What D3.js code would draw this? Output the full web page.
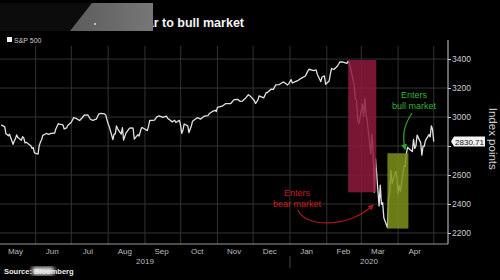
<!DOCTYPE html>
<html>
<head>
<meta charset="utf-8">
<script src="https://cdn.jsdelivr.net/npm/d3@7"></script>
<style>
  body { margin: 0; background: #000; }
  svg { display: block; font-family: "Liberation Sans", Arial, sans-serif; }
</style>
</head>
<body>
<div id="chart"></div>
<script>
// S&P 500 closes, May 2019 - May 2020
const dates = [
  "2019-05-03","2019-05-06","2019-05-07","2019-05-08","2019-05-09","2019-05-10","2019-05-13","2019-05-14","2019-05-15","2019-05-16",
  "2019-05-17","2019-05-20","2019-05-21","2019-05-22","2019-05-23","2019-05-24","2019-05-28","2019-05-29","2019-05-30","2019-05-31",
  "2019-06-03","2019-06-04","2019-06-05","2019-06-06","2019-06-07","2019-06-10","2019-06-12","2019-06-14","2019-06-17","2019-06-18",
  "2019-06-20","2019-06-21","2019-06-24","2019-06-25","2019-06-27","2019-06-28","2019-07-01","2019-07-03","2019-07-05","2019-07-08",
  "2019-07-10","2019-07-12","2019-07-15","2019-07-17","2019-07-19","2019-07-22","2019-07-24","2019-07-26","2019-07-29","2019-07-30",
  "2019-07-31","2019-08-01","2019-08-02","2019-08-05","2019-08-06","2019-08-07","2019-08-08","2019-08-09","2019-08-12","2019-08-13",
  "2019-08-14","2019-08-16","2019-08-19","2019-08-21","2019-08-22","2019-08-23","2019-08-26","2019-08-27","2019-08-29","2019-08-30",
  "2019-09-03","2019-09-04","2019-09-05","2019-09-09","2019-09-11","2019-09-13","2019-09-16","2019-09-19","2019-09-20","2019-09-24",
  "2019-09-26","2019-09-27","2019-09-30","2019-10-01","2019-10-02","2019-10-03","2019-10-04","2019-10-07","2019-10-08","2019-10-10",
  "2019-10-11","2019-10-15","2019-10-18","2019-10-21","2019-10-24","2019-10-25","2019-10-28","2019-10-30","2019-10-31","2019-11-01",
  "2019-11-05","2019-11-08","2019-11-12","2019-11-15","2019-11-18","2019-11-20","2019-11-22","2019-11-25","2019-11-27","2019-11-29",
  "2019-12-02","2019-12-03","2019-12-05","2019-12-06","2019-12-10","2019-12-12","2019-12-13","2019-12-16","2019-12-18","2019-12-20",
  "2019-12-23","2019-12-26","2019-12-27","2019-12-30","2019-12-31","2020-01-02","2020-01-03","2020-01-06","2020-01-08","2020-01-10",
  "2020-01-14","2020-01-16","2020-01-17","2020-01-21","2020-01-23","2020-01-24","2020-01-27","2020-01-28","2020-01-30","2020-01-31",
  "2020-02-03","2020-02-04","2020-02-05","2020-02-07","2020-02-10","2020-02-12","2020-02-14","2020-02-18","2020-02-19","2020-02-20",
  "2020-02-21","2020-02-24","2020-02-25","2020-02-26","2020-02-27","2020-02-28","2020-03-02","2020-03-03","2020-03-04","2020-03-05",
  "2020-03-06","2020-03-09","2020-03-10","2020-03-11","2020-03-12","2020-03-13","2020-03-16","2020-03-17","2020-03-18","2020-03-19",
  "2020-03-20","2020-03-23","2020-03-24","2020-03-25","2020-03-26","2020-03-27","2020-03-30","2020-03-31","2020-04-01","2020-04-02",
  "2020-04-03","2020-04-06","2020-04-07","2020-04-08","2020-04-09","2020-04-13","2020-04-14","2020-04-15","2020-04-16","2020-04-17",
  "2020-04-20","2020-04-21","2020-04-22","2020-04-23","2020-04-24","2020-04-27","2020-04-28","2020-04-29","2020-04-30","2020-05-01"
];
const closes = [
  2945.6,2932.5,2884.1,2879.4,2870.7,2881.4,2811.9,2834.4,2850.9,2876.3,
  2859.5,2840.2,2864.4,2856.3,2822.2,2826.1,2802.4,2783.0,2788.9,2752.1,
  2744.5,2803.3,2826.2,2843.5,2873.3,2886.7,2879.8,2886.9,2889.7,2917.8,
  2954.2,2950.5,2945.4,2917.4,2924.9,2941.8,2964.3,2995.8,2990.4,2975.9,
  2993.1,3013.8,3014.3,2984.4,2976.6,2985.0,3019.6,3025.9,3021.0,3013.2,
  2980.4,2953.6,2932.1,2844.7,2881.8,2884.0,2938.1,2918.7,2882.7,2926.3,
  2840.6,2888.7,2923.7,2924.4,2922.9,2847.1,2878.4,2869.2,2924.6,2926.5,
  2906.3,2937.8,2976.0,2978.4,3000.9,3007.4,2998.0,3006.8,2992.1,2966.6,
  2977.6,2961.8,2976.7,2940.3,2887.6,2910.6,2952.0,2938.8,2893.1,2938.1,
  2970.3,2995.7,2986.2,3006.7,3010.3,3022.6,3039.4,3046.8,3037.6,3066.9,
  3074.6,3093.1,3091.8,3120.5,3122.0,3108.5,3110.3,3133.6,3153.6,3141.0,
  3113.9,3093.2,3117.4,3145.9,3132.5,3168.6,3168.8,3191.5,3191.1,3221.2,
  3224.0,3239.9,3240.0,3221.3,3230.8,3257.9,3234.9,3246.3,3253.1,3265.4,
  3283.2,3316.8,3329.6,3320.8,3325.5,3295.5,3243.6,3276.2,3283.7,3225.5,
  3248.9,3297.6,3334.7,3327.7,3352.1,3379.5,3380.2,3370.3,3386.2,3373.2,
  3337.8,3225.9,3128.2,3116.4,2978.8,2954.2,3090.2,3003.4,3130.1,3023.9,
  2972.4,2746.6,2882.2,2741.4,2480.6,2711.0,2386.1,2529.2,2398.1,2409.4,
  2304.9,2237.4,2447.3,2475.6,2630.1,2541.5,2626.7,2584.6,2470.5,2526.9,
  2488.7,2663.7,2659.4,2750.0,2789.8,2761.6,2846.1,2783.4,2799.6,2875.0,
  2823.2,2736.6,2799.3,2797.8,2836.7,2878.5,2863.4,2939.5,2912.4,2830.71
];
const yTicks = [2200, 2400, 2600, 2800, 3000, 3200, 3400];
const monthLabels = ["May","Jun","Jul","Aug","Sep","Oct","Nov","Dec","Jan","Feb","Mar","Apr"];
const yearLabels = ["2019", "2020"];
// bear zone: peak -> close that entered bear market; bull zone: low -> close that entered bull market
const bearZone = ["2020-02-19", "2020-03-12"];
const bullZone = ["2020-03-23", "2020-04-08"];

const parse = d3.timeParse("%Y-%m-%d");
const data = dates.map((d, i) => ({ date: parse(d), value: closes[i] }));

const W = 500, H = 280;
const plot = { left: 0, right: 448, top: 46, bottom: 244 };

const svg = d3.select("#chart").append("svg")
  .attr("width", W).attr("height", H);

svg.append("rect").attr("width", W).attr("height", H).attr("fill", "#000");

const x = d3.scaleTime()
  .domain([new Date(2019, 4, 2), new Date(2020, 4, 13)])
  .range([plot.left, plot.right]);

const y = d3.scaleLinear()
  .domain([2124, 3490])
  .range([plot.bottom, plot.top]);

// grid
const monthStarts = d3.timeMonth.range(new Date(2019, 5, 1), new Date(2020, 4, 2));
svg.append("g").selectAll("line").data(monthStarts).join("line")
  .attr("x1", d => x(d)).attr("x2", d => x(d))
  .attr("y1", plot.top).attr("y2", plot.bottom)
  .attr("stroke", "#333").attr("stroke-width", 1);

svg.append("g").selectAll("line").data(yTicks).join("line")
  .attr("x1", plot.left).attr("x2", plot.right)
  .attr("y1", d => y(d)).attr("y2", d => y(d))
  .attr("stroke", "#333").attr("stroke-width", 1);

// series line
const line = d3.line().x(d => x(d.date)).y(d => y(d.value));
svg.append("path").datum(data)
  .attr("fill", "none")
  .attr("stroke", "#e2e2e2")
  .attr("stroke-width", 1.3)
  .attr("stroke-linejoin", "round")
  .attr("d", line);

// shaded zones
const valueAt = s => data.find(d => +d.date === +parse(s)).value;
svg.append("rect")
  .attr("x", x(parse(bearZone[0])))
  .attr("width", x(parse(bearZone[1])) - x(parse(bearZone[0])) + 2)
  .attr("y", y(valueAt(bearZone[0])) - 1)
  .attr("height", y(valueAt(bearZone[1])) - y(valueAt(bearZone[0])) + 1)
  .attr("fill", "#8e1a3c").attr("opacity", 0.85);

svg.append("rect")
  .attr("x", x(parse(bullZone[0])))
  .attr("width", x(parse(bullZone[1])) - x(parse(bullZone[0])) + 2)
  .attr("y", y(valueAt(bullZone[1])))
  .attr("height", y(valueAt(bullZone[0])) - y(valueAt(bullZone[1])) + 1)
  .attr("fill", "#7d901c").attr("opacity", 0.85);

// arrow markers
const defs = svg.append("defs");
[["redHead", "#a8161c"], ["greenHead", "#2fa52f"]].forEach(([id, c]) => {
  defs.append("marker").attr("id", id)
    .attr("viewBox", "0 0 10 10").attr("refX", 8).attr("refY", 5)
    .attr("markerWidth", 5).attr("markerHeight", 5).attr("orient", "auto")
    .append("path").attr("d", "M0,0L10,5L0,10z").attr("fill", c);
});

// bear annotation
svg.append("path")
  .attr("d", "M298,210 C305,228 350,228 373,205")
  .attr("fill", "none").attr("stroke", "#a8161c").attr("stroke-width", 1.2)
  .attr("marker-end", "url(#redHead)");
svg.append("text").attr("x", 297).attr("y", 196)
  .attr("text-anchor", "middle").attr("font-size", 9).attr("fill", "#c81e1e")
  .selectAll("tspan").data(["Enters", "bear market"]).join("tspan")
  .attr("x", 297).attr("dy", (d, i) => i ? 11 : 0).text(d => d);

// bull annotation
svg.append("path")
  .attr("d", "M412,113 C404,125 402,135 405,149")
  .attr("fill", "none").attr("stroke", "#2fa52f").attr("stroke-width", 1.2)
  .attr("marker-end", "url(#greenHead)");
svg.append("text").attr("x", 414).attr("y", 98)
  .attr("text-anchor", "middle").attr("font-size", 9).attr("fill", "#33b333")
  .selectAll("tspan").data(["Enters", "bull market"]).join("tspan")
  .attr("x", 414).attr("dy", (d, i) => i ? 11 : 0).text(d => d);

// right axis (2800 label sits under the last-value tag)
const last = data[data.length - 1];
const yAxis = svg.append("g")
  .attr("transform", `translate(${plot.right},0)`)
  .call(d3.axisRight(y).tickValues(yTicks).tickSize(3).tickPadding(1)
    .tickFormat(d => Math.abs(d - last.value) < 60 ? "" : d3.format("d")(d)));
yAxis.select(".domain").attr("stroke", "#cfcfcf").attr("d", `M0,40V${plot.bottom}`);
yAxis.selectAll(".tick line").attr("stroke", "#cfcfcf");
yAxis.selectAll(".tick text").attr("fill", "#cfcfcf").attr("font-size", 8.5)
  .attr("font-family", "Liberation Sans, Arial, sans-serif");

svg.append("text")
  .attr("transform", `translate(489,${(y(2650) + y(3050)) / 2}) rotate(90)`)
  .attr("text-anchor", "middle").attr("font-size", 11.5).attr("fill", "#cfcfcf")
  .text("Index points");

// last value label
const lg = svg.append("g").attr("transform", `translate(451,${y(last.value)})`);
lg.append("path").attr("d", "M0,0L3,-5H34V5H3Z").attr("fill", "#f2f2f2");
lg.append("text").attr("x", 18.5).attr("y", 3).attr("text-anchor", "middle")
  .attr("font-size", 8).attr("fill", "#111").text(d3.format(".2f")(last.value));

// bottom axis
svg.append("line")
  .attr("x1", plot.left).attr("x2", plot.right)
  .attr("y1", plot.bottom).attr("y2", plot.bottom)
  .attr("stroke", "#9a9a9a");

const monthMids = d3.timeMonth.range(new Date(2019, 4, 1), new Date(2020, 4, 1)).map(d => d3.timeDay.offset(d, 14));
svg.append("g").selectAll("text").data(monthLabels).join("text")
  .attr("x", (d, i) => x(monthMids[i]))
  .attr("y", 254)
  .attr("text-anchor", "middle").attr("font-size", 8).attr("fill", "#bdbdbd")
  .text(d => d);

const newYear = new Date(2020, 0, 1);
svg.append("line")
  .attr("x1", x(newYear)).attr("x2", x(newYear))
  .attr("y1", 256).attr("y2", 268)
  .attr("stroke", "#444");
svg.append("g").selectAll("text").data(yearLabels).join("text")
  .attr("x", (d, i) => i ? (x(newYear) + plot.right) / 2 : (plot.left + x(newYear)) / 2)
  .attr("y", 264)
  .attr("text-anchor", "middle").attr("font-size", 8).attr("fill", "#bdbdbd")
  .text(d => d);

// legend
svg.append("rect").attr("x", 7).attr("y", 37).attr("width", 5).attr("height", 5).attr("fill", "#f0f0f0");
svg.append("text").attr("x", 14).attr("y", 42.5).attr("font-size", 7).attr("fill", "#cfcfcf").text("S&P 500");

// title
svg.append("text").attr("x", 244).attr("y", 27)
  .attr("text-anchor", "end").attr("font-size", 12.5).attr("font-weight", "bold").attr("fill", "#f4f4f4")
  .text("Stocks go from bear to bull market");

// obscuring patch over start of title
const grad = defs.append("linearGradient").attr("id", "patch").attr("x1", "0").attr("x2", "1");
grad.append("stop").attr("offset", "0").attr("stop-color", "#444");
grad.append("stop").attr("offset", "1").attr("stop-color", "#777");
svg.append("rect").attr("x", 0).attr("y", 3).attr("width", 153).attr("height", 28).attr("fill", "url(#patch)");
svg.append("path").attr("d", "M0,3H92L70,31H0Z").attr("fill", "#0c0c0c");
svg.append("circle").attr("cx", 95).attr("cy", 24).attr("r", 1).attr("fill", "#ddd");

// source
svg.append("text").attr("x", 4).attr("y", 274)
  .attr("font-size", 7.5).attr("font-weight", "bold").attr("fill", "#eee")
  .text("Source: Bloomberg");
defs.append("filter").attr("id", "blur").append("feGaussianBlur").attr("stdDeviation", 2);
svg.append("rect").attr("x", 32).attr("y", 267).attr("width", 22).attr("height", 8)
  .attr("fill", "#e8e8e8").attr("filter", "url(#blur)");
</script>
</body>
</html>
